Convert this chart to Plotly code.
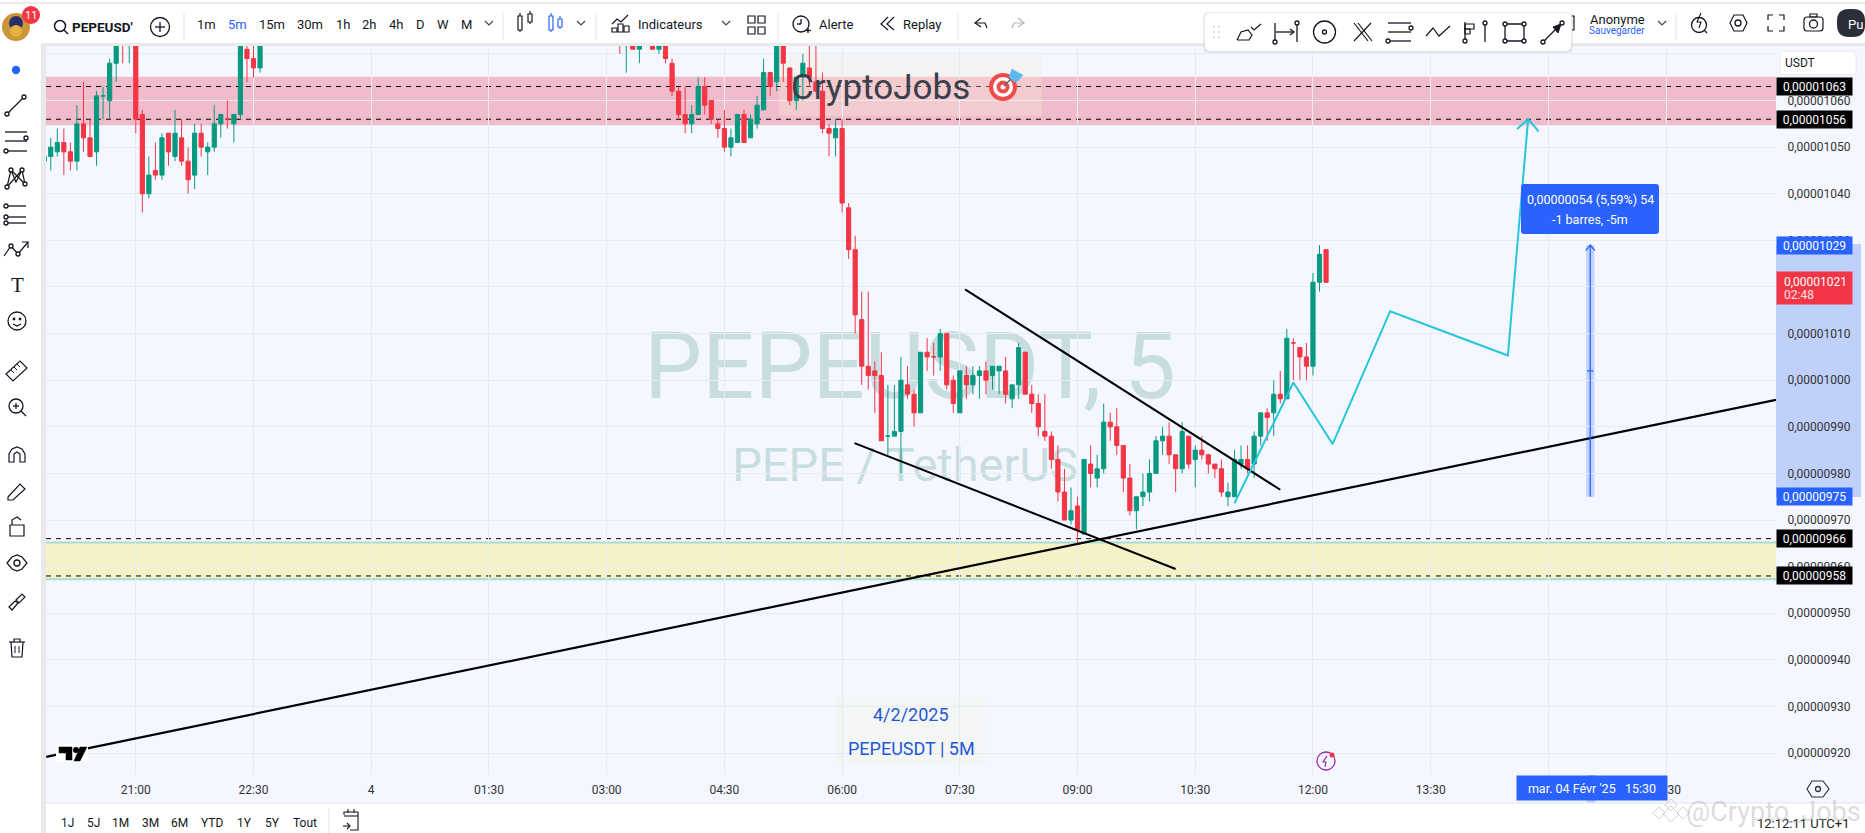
import pandas as pd
import plotly.graph_objects as go

W, H = 1865, 833
PL, PR, PT, PB = 46, 1776, 46, 775
BLUE = "#2962FF"
GREEN = "#089981"
RED = "#F23645"
INK = "#131722"

# ---- Data: prices are in units of 0.00000001 USDT, bars are 5-minute bars counted from 21:00 ----
bar_index = list(range(-14, 20)) + list(range(74, 183))
opens = [1047,1048,1049,1051,1049,1047,1055,1052,1049,1061, 1060,1068,1080,1076,1085,1057,1040,1045,1044,1053,
         1048,1052,1047,1044,1053,1049,1050,1055,1056,1055, 1057,1071,1069,1067,
         1078,1074,1075,1071,1074,1075,1071,1074,1068,1062, 1057,1055,1057,1063,1060,1055,1054,1050,1051,1057,
         1052,1055,1058,1066,1064,1074,1067,1060,1065,1067, 1064,1062,1054,1052,1054,1037,1028,1013,1003,1002,
         1001,988,988,989,999,997,993,1006,1005,1005, 1010,1000,993,1001,999,1001,1002,1001,1002,1002,
         996,999,1006,997,995,989,988,983,976,970, 973,967,982,979,981,991,990,986,979,972,
         975,976,980,987,988,984,981,988,983,985, 984,982,981,975,975,982,983,982,988,993,
         993,997,996,1008,1007,1005,1003,1021,1028]
highs = [1048,1052,1054,1054,1051,1059,1064,1056,1062,1063, 1069,1075,1082,1087,1086,1058,1048,1051,1053,1053,
         1058,1056,1050,1055,1055,1051,1059,1057,1060,1057, 1076,1073,1073,1074,
         1080,1079,1076,1075,1077,1076,1075,1075,1069,1063, 1063,1059,1065,1065,1060,1056,1058,1054,1057,1058,
         1057,1061,1069,1066,1075,1075,1067,1065,1070,1073, 1072,1066,1055,1056,1056,1038,1031,1019,1019,1004,
         1006,999,999,1005,1003,998,1006,1009,1008,1011, 1010,1001,1002,1003,1003,1003,1004,1003,1003,1005,
         999,1008,1006,999,997,997,989,986,981,977, 975,983,986,984,995,993,994,986,982,975,
         980,983,988,990,991,984,991,988,986,988, 984,982,983,978,985,986,986,989,993,994,
         1000,1002,1011,1009,1007,1008,1023,1029,1028]
lows = [1047,1045,1048,1044,1045,1045,1049,1048,1046,1056, 1056,1064,1068,1068,1053,1036,1039,1043,1043,1046,
        1047,1046,1040,1041,1048,1044,1049,1052,1054,1051, 1056,1064,1065,1066,
        1070,1066,1071,1068,1073,1071,1070,1068,1061,1056, 1053,1053,1057,1057,1055,1052,1049,1048,1051,1051,
        1052,1054,1058,1061,1062,1064,1059,1058,1060,1063, 1062,1053,1048,1048,1036,1026,1010,999,998,993,
        987,984,988,980,996,990,993,1002,1001,1002, 998,993,993,996,997,996,997,998,997,995,
        994,996,997,993,988,987,981,974,970,969, 965,967,977,977,980,987,984,976,971,968,
        973,974,980,984,982,976,980,981,977,983, 980,979,975,973,975,981,980,979,986,987,
        988,995,996,1000,1000,1000,1001,1019,1021]
closes = [1048,1050,1051,1049,1047,1055,1052,1048,1061,1061, 1068,1074,1075,1085,1056,1040,1044,1044,1052,1049,
          1053,1047,1043,1053,1050,1050,1055,1057,1056,1057, 1075,1069,1067,1073,
          1074,1078,1071,1074,1076,1071,1074,1069,1062,1057, 1055,1057,1063,1059,1056,1054,1050,1052,1057,1051,
          1056,1059,1066,1063,1073,1068,1060,1065,1068,1065, 1062,1054,1053,1054,1038,1028,1014,1003,1001,1001,
          987,988,989,1000,997,993,1006,1005,1005,1010, 999,995,1002,999,1001,1002,1000,1003,1003,997,
          999,1007,997,995,990,988,983,976,970,972, 968,983,980,981,991,990,986,979,972,975,
          976,980,987,988,984,981,989,982,985,984, 982,981,976,976,983,983,981,988,993,992,
          997,996,1009,1008,1005,1003,1021,1027,1021]

price_ticks = [920, 930, 940, 950, 960, 970, 980, 990, 1000, 1010, 1020, 1030, 1040, 1050, 1060, 1070]
price_labels = ["0,00000920", "0,00000930", "0,00000940", "0,00000950", "0,00000960", "0,00000970",
                "0,00000980", "0,00000990", "0,00001000", "0,00001010", "0,00001020", "0,00001030",
                "0,00001040", "0,00001050", "0,00001060", ""]
time_tick_bars = [0, 18, 36, 54, 72, 90, 108, 126, 144, 162, 180, 198, 216, 234]
time_labels = ["21:00", "22:30", "4", "01:30", "03:00", "04:30", "06:00", "07:30", "09:00", "10:30",
               "12:00", "13:30", "15:00", "16:30"]

trend_long_x, trend_long_y = [-13.7, 250.8], [919.2, 995.8]
wedge_top_x, wedge_top_y = [126.8, 175.0], [1019.5, 976.5]
wedge_low_x, wedge_low_y = [109.9, 159.0], [986.5, 959.5]
path_x = [168.0, 177.0, 183.0, 191.8, 209.8, 212.9]
path_y = [973.6, 999.5, 986.3, 1014.8, 1005.3, 1056.0]
head_x = [211.2, 212.9, 214.5]
head_y = [1053.9, 1056.0, 1053.4]
measure_bar, measure_low, measure_high = 222.4, 975, 1029

resistance_zone = (1054.7, 1065.1)
support_zone = (957.3, 965.2)
dashed_levels = [1063, 1056, 966, 958]
price_range = (915.3, 1071.7)
bar_range = (-13.73, 250.8)


def t(i):
    return pd.Timestamp("2025-02-03 21:00") + pd.Timedelta(minutes=5 * i)


def X(px):
    return (px - PL) / (PR - PL)


def Y(py):
    return 1 - (py - PT) / (PB - PT)


shapes, annos = [], []


def sl(x0, y0, x1, y1, c=INK, w=1.3, layer="above"):
    shapes.append(dict(type="line", xref="paper", yref="paper", x0=X(x0), y0=Y(y0), x1=X(x1), y1=Y(y1),
                       line=dict(color=c, width=w), layer=layer))


def sr(x0, y0, x1, y1, fill="rgba(0,0,0,0)", c="rgba(0,0,0,0)", w=0, layer="above"):
    shapes.append(dict(type="rect", xref="paper", yref="paper", x0=X(x0), y0=Y(y0), x1=X(x1), y1=Y(y1),
                       fillcolor=fill, line=dict(color=c, width=w), layer=layer))


def sc(cx, cy, r, fill="rgba(0,0,0,0)", c=INK, w=1.3):
    shapes.append(dict(type="circle", xref="paper", yref="paper", x0=X(cx - r), y0=Y(cy - r), x1=X(cx + r),
                       y1=Y(cy + r), fillcolor=fill, line=dict(color=c, width=w), layer="above"))


def poly(pts, c=INK, w=1.3, close=False, fill="rgba(0,0,0,0)"):
    d = "M" + " L".join(f"{X(a):.5f},{Y(b):.5f}" for a, b in pts) + (" Z" if close else "")
    shapes.append(dict(type="path", xref="paper", yref="paper", path=d, fillcolor=fill,
                       line=dict(color=c, width=w), layer="above"))


def rrect(x0, y0, x1, y1, r, fill, c="rgba(0,0,0,0)", w=0):
    d = (f"M{X(x0+r)},{Y(y0)} L{X(x1-r)},{Y(y0)} Q{X(x1)},{Y(y0)} {X(x1)},{Y(y0+r)} L{X(x1)},{Y(y1-r)} "
         f"Q{X(x1)},{Y(y1)} {X(x1-r)},{Y(y1)} L{X(x0+r)},{Y(y1)} Q{X(x0)},{Y(y1)} {X(x0)},{Y(y1-r)} "
         f"L{X(x0)},{Y(y0+r)} Q{X(x0)},{Y(y0)} {X(x0+r)},{Y(y0)} Z")
    shapes.append(dict(type="path", xref="paper", yref="paper", path=d, fillcolor=fill,
                       line=dict(color=c, width=w), layer="above"))


def txt(px, py, s, size=12, c=INK, anchor="center", family="Roboto"):
    annos.append(dict(xref="paper", yref="paper", x=X(px), y=Y(py), text=s, showarrow=False, xanchor=anchor,
                      yanchor="middle", font=dict(family=family, size=size, color=c), borderpad=0, borderwidth=0))


def badge(price, s, bg, fg="white"):
    annos.append(dict(xref="paper", x=X(1776), xanchor="left", text=s, showarrow=False, bgcolor=bg, width=75, height=17,
                      font=dict(family="Roboto", size=12, color=fg), yanchor="middle", borderpad=0, align="center",
                      yref="y", y=price))


# ---- chart annotations in data space ----
def zone(lo, hi, fill):
    shapes.append(dict(type="rect", xref="x domain", yref="y", x0=0, x1=1, y0=lo, y1=hi, fillcolor=fill,
                       line=dict(width=0), layer="below"))


zone(*resistance_zone, "rgba(232,52,82,0.30)")
zone(*support_zone, "rgba(248,240,170,0.65)")
for lvl in support_zone:
    shapes.append(dict(type="line", xref="x domain", yref="y", x0=0, x1=1, y0=lvl, y1=lvl,
                       line=dict(color="#A9DDD3", width=2), layer="below"))
for lvl, wd in zip(dashed_levels, [1.1, 1.1, 1, 1]):
    shapes.append(dict(type="line", xref="x domain", yref="y", x0=0, x1=1, y0=lvl, y1=lvl,
                       line=dict(color="black", width=wd, dash="5px,5px"), layer="below"))

# watermarks live in the layer under the candles
for (x0, y0, x1, y1, s, size) in [(600, 312, 1220, 406, "PEPEUSDT, 5", 92),
                                  (645, 435, 1165, 487, "PEPE / TetherUS", 47)]:
    shapes.append(dict(type="rect", xref="paper", yref="paper", x0=X(x0), y0=Y(y0), x1=X(x1), y1=Y(y1),
                       fillcolor="rgba(0,0,0,0)", line=dict(width=0), layer="below",
                       label=dict(text=s, textposition="middle center",
                                  font=dict(family="Roboto", size=size, color="#C8DDDF"))))

# price-axis band of the measure tool
sr(1776, 244, 1861, 497, fill="#BFD0FB", layer="below")
sr(1587, 775, 1595, 803, fill="#BFD0FB", layer="below")
shapes.append(dict(type="rect", xref="x", yref="y", x0=t(measure_bar - 0.62), x1=t(measure_bar + 0.62),
                   y0=measure_low, y1=measure_high, fillcolor="rgba(41,98,255,0.25)", line=dict(width=0),
                   layer="below"))

# ---- interface chrome ----
sr(0, 0, W, 43, fill="white")
sl(0, 3, W, 3, "#E4E4E6", 1.5)
sr(0, 43, 41, H, fill="white")
sr(41, 43, W, 46, fill="#E9E9EA")
sr(41, 43, 46, H, fill="#E9E9EA")
sr(46, 803, W, H, fill="white")
sl(46, 803, W, 803, "#E0E3EB", 1)

# avatar
sc(16, 27, 14, fill="#C9973A", c="#C9973A", w=0)
sc(16, 23, 7, fill="#2A2F6B", c="#2A2F6B", w=0)
sc(16, 31, 6, fill="#E8B23A", c="#E8B23A", w=0)
sc(31, 15, 9, fill=RED, c=RED, w=0)
txt(31, 15, "11", 11, "white")
# search + symbol
sc(60, 26, 5.5, w=1.5)
sl(64, 30, 68, 34, INK, 1.5)
txt(72, 27, "<b>PEPEUSD'</b>", 13.5, INK, "left")
sc(160, 27, 9.5)
sl(155, 27, 165, 27)
sl(160, 22, 160, 32)
for dx in (184, 503, 596, 778, 958, 1676):
    sl(dx, 13, dx, 40, "#E0E3EB", 1)
for px, s, col in [(206, "1m", INK), (237, "5m", BLUE), (272, "15m", INK), (310, "30m", INK), (343, "1h", INK),
                   (369, "2h", INK), (396, "4h", INK), (420, "D", INK), (443, "W", INK), (466, "M", INK)]:
    txt(px, 24, s, 13, col)


def chevron(px, py=23, r=4, c="#444"):
    poly([(px - r, py - 2), (px, py + 2), (px + r, py - 2)], c, 1.2)


for px in (489, 581, 726, 1662):
    chevron(px)
chevron(1848, 63, 3)
# candle icons
for cx, y0, y1, c in [(520, 16, 30, INK), (530, 14, 22, INK), (551, 16, 30, BLUE), (560, 19, 27, BLUE)]:
    sr(cx - 2, y0, cx + 2, y1, c=c, w=1.2)
    sl(cx, y0 - 3, cx, y0, c, 1.2)
    sl(cx, y1, cx, y1 + 2, c, 1.2)
# indicators icon + text
poly([(612, 24), (617, 19), (621, 22), (628, 15)], INK, 1.2)
for a, b in [(612, 28), (618, 24), (624, 26)]:
    sr(a, b, a + 5, 32, c=INK, w=1.2)
txt(670, 24, "Indicateurs", 13)
for a in (748, 758):
    for b in (16, 27):
        sr(a, b, a + 7, b + 7, c=INK, w=1.2)
# alert
sc(801, 24, 8)
sl(801, 19, 801, 24)
sl(801, 24, 797, 24)
sl(808, 28, 808, 33)
sl(805, 30.5, 811, 30.5)
txt(836, 24, "Alerte", 13)
poly([(888, 17), (881, 24), (888, 30)], INK, 1.2)
poly([(894, 17), (887, 24), (894, 30)], INK, 1.2)
txt(922, 24, "Replay", 13)
poly([(981, 18), (975, 23), (981, 27)], INK, 1.2)
poly([(975, 23), (985, 23), (987, 28)], INK, 1.2)
poly([(1018, 18), (1024, 23), (1018, 27)], "#B2B5BE", 1.2)
poly([(1024, 23), (1014, 23), (1012, 28)], "#B2B5BE", 1.2)

# floating drawing toolbar
rrect(1203, 12, 1573, 53, 6, "rgba(0,0,0,0.07)")
rrect(1205, 13, 1571, 51, 6, "white")
for a in (1214, 1219):
    for b in (27, 32, 37):
        sc(a, b, 0.8, fill="#B2B5BE", c="#B2B5BE", w=0)
poly([(1237, 40), (1241, 32), (1248, 30), (1252, 35), (1249, 40), (1237, 40)], INK, 1.2)
poly([(1251, 27), (1254, 30), (1261, 24)], INK, 1.2)
sl(1275, 23, 1275, 42)
sl(1297, 23, 1297, 42)
sl(1276, 32, 1294, 32)
poly([(1290, 29), (1294, 32), (1290, 35)], INK, 1.2)
sc(1324.5, 32, 11)
sc(1324.5, 32, 2)
poly([(1354, 23), (1368, 41)], INK, 1.2)
poly([(1358, 23), (1372, 41)], INK, 1.2)
poly([(1371, 23), (1354, 41)], INK, 1.2)
for b in (23, 32, 41):
    sl(1388, b, 1411, b)
poly([(1426, 36), (1433, 28), (1439, 36), (1450, 26)], INK, 1.2)
sl(1465, 22, 1465, 42)
sr(1465, 24, 1474, 29, c=INK, w=1.2)
sr(1465, 29, 1470, 34, c=INK, w=1.2)
sl(1485, 24, 1485, 42)
sr(1505, 24, 1524, 41, c=INK, w=1.3)
for a, b in [(1505, 24), (1524, 24), (1505, 41), (1524, 41)]:
    sc(a, b, 2, fill="white")
sl(1543, 42, 1560, 25, INK, 1.3)
poly([(1553, 27), (1561, 24), (1558, 33)], INK, 1, True, INK)
for a, b in [(1543, 42), (1562, 23)]:
    sc(a, b, 2, fill="white")
for a, b in [(1275, 42), (1297, 23), (1411, 28), (1388, 41), (1465, 41), (1485, 23)]:
    sc(a, b, 2, fill="white")
poly([(1572, 16), (1574, 16), (1574, 30), (1572, 30)], INK, 1.2)

# right side of the top bar
txt(1617, 19, "Anonyme", 13)
txt(1617, 31, "Sauvegarder", 10, BLUE)
sc(1699, 25, 7.5)
sl(1704, 30, 1707, 33)
poly([(1701, 13), (1697, 22), (1701, 22), (1699, 28)], INK, 1.1)
poly([(1730, 23), (1734, 15), (1743, 15), (1747, 23), (1743, 31), (1734, 31)], INK, 1.2, True)
sc(1738, 23, 3)
for (a, b, da, db) in [(1768, 15, 1, 1), (1784, 15, -1, 1), (1768, 31, 1, -1), (1784, 31, -1, -1)]:
    poly([(a + 5 * da, b), (a, b), (a, b + 5 * db)], INK, 1.2)
rrect(1804, 17, 1823, 31, 3, "rgba(0,0,0,0)", INK, 1.2)
sr(1810, 14, 1817, 17, c=INK, w=1.2)
sc(1813.5, 24, 4)
rrect(1837, 9, 1865, 37, 12, "#2A2E39")
txt(1855, 24, "Pu", 13, "white")

# left toolbar
sc(16, 70, 3.5, fill=BLUE, c=BLUE)
sl(8, 113, 23, 98)
sc(7, 114, 2, fill="white")
sc(24, 97, 2, fill="white")
for b, a0, a1 in [(132, 5, 27), (141, 5, 27), (151, 5, 27)]:
    sl(a0, b, a1, b)
sc(26, 138, 2, fill="white")
sc(6, 151, 2, fill="white")
poly([(7, 187), (11, 170), (16, 182), (22, 170), (25, 184)], INK, 1.2)
poly([(7, 187), (22, 170)], INK, 1.2)
poly([(11, 170), (25, 184)], INK, 1.2)
for a, b in [(7, 187), (11, 170), (22, 170), (25, 184)]:
    sc(a, b, 2, fill="white")
for b in (206, 217, 223):
    sl(7, b, 26, b)
    sc(6, b, 2, fill="white")
poly([(4, 256), (11, 246), (18, 254), (28, 242)], INK, 1.2)
poly([(22, 242), (28, 242), (28, 248)], INK, 1.2)
sc(11, 246, 2, fill="white")
sc(18, 254, 2, fill="white")
txt(17, 285, "T", 21, INK, family="Liberation Serif")
sc(17, 321, 9)
sc(14, 319, 0.8, fill=INK)
sc(20, 319, 0.8, fill=INK)
poly([(13, 324), (17, 326), (21, 324)], INK, 1.2)
poly([(6, 374), (20, 361), (27, 368), (13, 381)], INK, 1.2, True)
for a, b in [(11, 370), (14, 367), (17, 364)]:
    sl(a, b, a + 3, b + 3, INK, 1)
sc(16, 406, 7)
sl(21, 411, 26, 416)
sl(13, 406, 19, 406)
sl(16, 403, 16, 409)
poly([(9, 462), (9, 454), (12, 449), (17, 447), (22, 449), (25, 454), (25, 462), (20, 462), (20, 454), (17, 452),
      (14, 454), (14, 462)], INK, 1.2, True)
poly([(8, 497), (20, 484), (25, 489), (13, 500), (8, 500)], INK, 1.2, True)
sr(10, 525, 24, 536, c=INK, w=1.2)
poly([(12, 525), (12, 520), (17, 517), (21, 520)], INK, 1.2)
poly([(7, 563), (12, 557), (17, 555), (22, 557), (27, 563), (22, 569), (17, 571), (12, 569)], INK, 1.2, True)
sc(17, 563, 3)
poly([(9, 607), (15, 601), (18, 603), (12, 610)], INK, 1.2, True)
poly([(16, 600), (22, 594), (25, 597), (19, 603)], INK, 1.2, True)
poly([(9, 642), (25, 642)], INK, 1.2)
poly([(11, 642), (12, 657), (22, 657), (23, 642)], INK, 1.2)
poly([(14, 642), (14, 639), (20, 639), (20, 642)], INK, 1.2)
sl(15, 646, 15, 653, INK, 1)
sl(19, 646, 19, 653, INK, 1)

# bottom bar
for px, s in [(67, "1J"), (93, "5J"), (120.5, "1M"), (150, "3M"), (179, "6M"), (212, "YTD"), (244, "1Y"), (272, "5Y"),
              (305, "Tout")]:
    txt(px, 823, s, 12)
sl(329, 808, 329, 833, "#E0E3EB", 1)
poly([(344, 815), (344, 812), (358, 812), (358, 830), (350, 830)], INK, 1.1)
sl(344, 816, 358, 816, INK, 1.1)
sl(348, 809, 348, 813, INK, 1.1)
sl(354, 809, 354, 813, INK, 1.1)
sl(343, 826, 350, 826, INK, 1.1)
poly([(347, 823), (350, 826), (347, 829)], INK, 1.1)

# TradingView mark
sr(56, 744, 88, 762, fill="white")
poly([(59, 747), (72, 747), (72, 760), (66, 760), (66, 753), (59, 753)], "black", 0.5, True, "black")
sc(76, 750, 3, fill="black", c="black", w=0)
poly([(80, 747), (87, 747), (80, 761), (74, 761)], "black", 0.5, True, "black")

# logo box top centre
sr(779, 55, 1042, 116, fill="rgba(250,235,215,0.33)", layer="below")
sc(1003, 87, 14, fill="#F04B4B", c="#F04B4B", w=0)
sc(1003, 87, 10, fill="white", c="white", w=0)
sc(1003, 87, 6.5, fill="#F04B4B", c="#F04B4B", w=0)
sc(1003, 87, 2.5, fill="white", c="white", w=0)
poly([(1004, 86), (1016, 74)], "#5C6770", 1.5)
poly([(1009, 77), (1012, 69), (1017, 72), (1023, 75), (1018, 81), (1014, 82)], "#5EB8F0", 0.5, True, "#5EB8F0")
txt(880, 87, "CryptoJobs", 35, "#3B3F4A")

# date/pair caption
sr(835, 697, 985, 765, fill="#F4F6F6", layer="below")
txt(911, 714, "4/2/2025", 18, "#2458D3")
txt(911, 748, "PEPEUSDT | 5M", 18, "#2458D3")

# lightning badge
sc(1326, 761, 9, c="#9C27B0", w=1.3)
poly([(1327, 756), (1323, 762), (1326, 762), (1325, 767)], "#9C27B0", 1.2)
sc(1332, 755, 2.5, fill=RED, c=RED, w=0)

# price-axis labels and buttons
rrect(1780, 51, 1856, 75, 3, "white", "#E9E9EA", 1)
txt(1785, 63, "USDT", 12, INK, "left")
badge(1063, "0,00001063", "black")
badge(1056, "0,00001056", "black")
badge(1029, "0,00001029", BLUE)
badge(975, "0,00000975", BLUE)
badge(966, "0,00000966", "black")
badge(958, "0,00000958", "black")
annos.append(dict(xref="paper", yref="paper", x=X(1776), y=Y(288), xanchor="left", yanchor="middle", width=75, height=32,
                  bgcolor=RED, showarrow=False, borderpad=0, align="left", text=" ",
                  font=dict(family="Roboto", size=12, color="white")))
txt(1784, 282, "0,00001021", 12, "white", "left")
txt(1784, 295, "02:48", 12, "#FFE3E5", "left")

# measure tool box
rrect(1521, 184, 1659, 234, 3, BLUE)
txt(1590, 199, "0,00000054 (5,59%) 54", 12.5, "white")
txt(1590, 219, "-1 barres, -5m", 12.5, "white")

# time label of the cursor
annos.append(dict(xref="paper", yref="paper", x=X(1516), y=Y(775), xanchor="left", yanchor="top", width=150, height=24,
                  bgcolor=BLUE, showarrow=False, borderpad=0, align="center",
                  text="mar. 04 Févr '25   15:30", font=dict(family="Roboto", size=12.5, color="white")))

# corner furniture
poly([(1807, 789), (1812, 781), (1823, 781), (1829, 789), (1823, 797), (1812, 797)], "#333", 1.2, True)
sc(1818, 789, 2.5, c="#333")
for a, b, d in [(1671, 805, 6), (1671, 814, 8), (1659, 813, 6), (1683, 813, 6)]:
    poly([(a - d, b), (a, b - d), (a + d, b), (a, b + d)], "rgba(170,170,170,0.5)", 1, True)
txt(1850, 823, "12:12:11 UTC+1", 13, "#222", "right")
txt(1773, 812, "@Crypto_Jobs", 27, "rgba(170,170,170,0.42)")

# ---- figure ----
fig = go.Figure()
fig.add_trace(go.Candlestick(
    x=[t(i) for i in bar_index], open=opens, high=highs, low=lows, close=closes,
    increasing=dict(line=dict(color=GREEN, width=1), fillcolor=GREEN),
    decreasing=dict(line=dict(color=RED, width=1), fillcolor=RED),
    whiskerwidth=0, hoverinfo="skip", showlegend=False))

for xs, ys, col, wd in [(trend_long_x, trend_long_y, "black", 2.2),
                        (wedge_top_x, wedge_top_y, "black", 2),
                        (wedge_low_x, wedge_low_y, "black", 2),
                        (path_x, path_y, "#26C6DA", 2),
                        (head_x, head_y, "#26C6DA", 2),
                        ([measure_bar, measure_bar], [measure_low, measure_high], BLUE, 1.3),
                        ([measure_bar - 0.7, measure_bar, measure_bar + 0.7],
                         [measure_high - 1.2, measure_high, measure_high - 1.2], BLUE, 1.3),
                        ([measure_bar - 0.5, measure_bar + 0.5],
                         [(measure_low + measure_high) / 2] * 2, BLUE, 1.3)]:
    fig.add_trace(go.Scatter(x=[t(v) for v in xs], y=ys, mode="lines", line=dict(color=col, width=wd),
                             hoverinfo="skip", showlegend=False))

grid = "#E8EBF4"
fig.update_layout(
    width=W, height=H, autosize=False,
    margin=dict(l=PL, r=W - PR, t=PT, b=H - PB, pad=0),
    paper_bgcolor="#F4F7FF", plot_bgcolor="rgba(0,0,0,0)",
    boxgap=0.36, boxgroupgap=0, showlegend=False, hovermode=False,
    font=dict(family="Roboto", size=12, color="#333"),
    shapes=shapes, annotations=annos,
    xaxis=dict(type="date", range=[t(bar_range[0]), t(bar_range[1])], rangeslider=dict(visible=False),
               tickmode="array", tickvals=[t(i) for i in time_tick_bars], ticktext=time_labels,
               showgrid=True, gridcolor=grid, gridwidth=1, zeroline=False, showline=False,
               ticks="outside", ticklen=4, tickcolor="rgba(0,0,0,0)", tickfont=dict(size=12, color="#333")),
    yaxis=dict(side="right", range=list(price_range), tickmode="array", tickvals=price_ticks, ticktext=price_labels,
               showgrid=True, gridcolor=grid, gridwidth=1, zeroline=False, showline=False,
               ticks="outside", ticklen=8, tickcolor="rgba(0,0,0,0)", tickfont=dict(size=12, color="#333")),
)

fig.write_html("out.html", config=dict(displayModeBar=False, staticPlot=True),
               post_script="document.body.style.margin='0';document.body.style.overflow='hidden';")
